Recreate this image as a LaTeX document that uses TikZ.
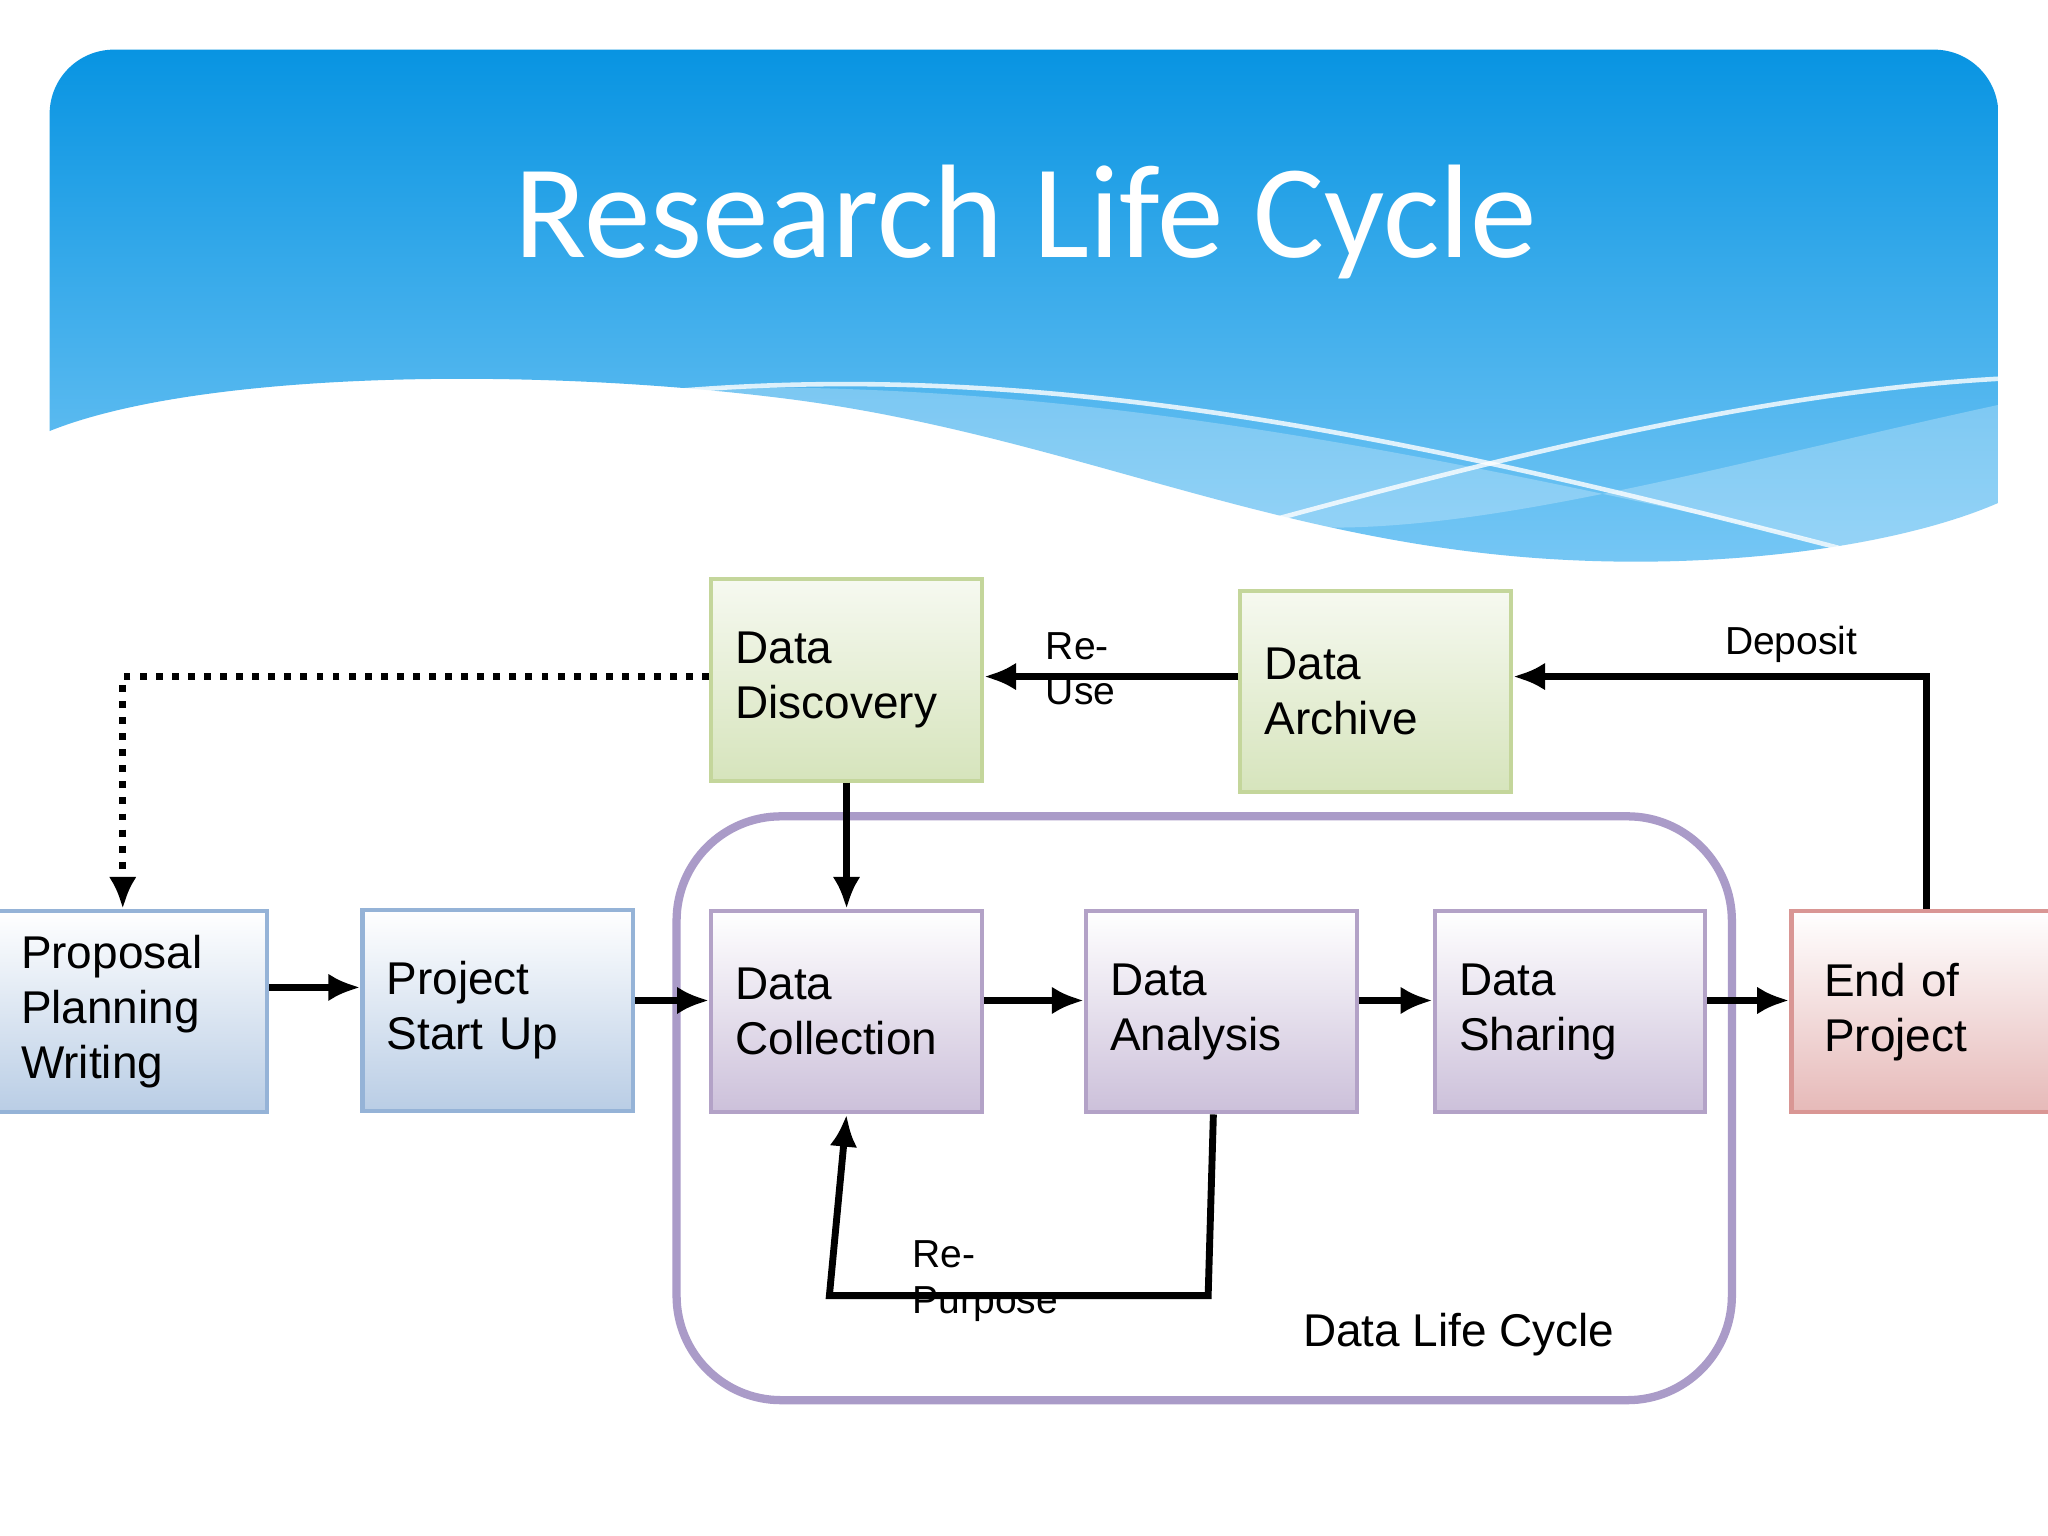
\documentclass[tikz,border=0pt]{standalone}
\usepackage{fontspec}
\setmainfont{Liberation Sans}
\newfontfamily\titlefont{Carlito}
\usetikzlibrary{arrows.meta,calc}
\begin{document}
\begin{tikzpicture}[x=0.01cm,y=-0.01cm,
  box/.style={draw,line width=0.9pt,minimum width=2.07cm,minimum height=1.54cm,text width=1.7cm,align=left,font=\fontsize{10}{12}\selectfont,anchor=north west,inner xsep=0.17cm},
  green/.style={box,draw={rgb,255:red,196;green,214;blue,155},top color={rgb,255:red,246;green,249;blue,240},bottom color={rgb,255:red,214;green,228;blue,188}},
  blue/.style={box,draw={rgb,255:red,149;green,179;blue,215},top color=white,bottom color={rgb,255:red,185;green,205;blue,229}},
  purple/.style={box,draw={rgb,255:red,179;green,162;blue,199},top color=white,bottom color={rgb,255:red,204;green,192;blue,218}},
  red/.style={box,draw={rgb,255:red,217;green,150;blue,148},top color=white,bottom color={rgb,255:red,230;green,185;blue,184}},
  arr/.style={line width=1.5pt,-{Latex[length=7pt,width=6pt]}},
  lbl/.style={font=\fontsize{8.5}{10}\selectfont,align=left,inner sep=0pt}]
\useasboundingbox (0,0) rectangle (1568,1176);
\fill[white] (0,0) rectangle (1568,1176);
% header
\shade[top color={rgb,255:red,8;green,148;blue,226},bottom color={rgb,255:red,120;green,200;blue,245}]
 (38,330) [rounded corners=14] -- (38,38) -- (1530,38) [sharp corners] -- (1530,385)
 .. controls (1450,420) and (1300,440) .. (1150,425)
 .. controls (950,405) and (800,330) .. (600,305)
 .. controls (400,280) and (150,285) .. (38,330) -- cycle;
\fill[white,opacity=0.25] (450,300) .. controls (800,280) and (1100,350) .. (1420,420) .. controls (1480,410) and (1510,400) .. (1530,385) -- (1530,310) .. controls (1300,360) and (1100,420) .. (960,400) .. controls (800,370) and (650,310) .. (450,300) -- cycle;
\draw[white,line width=1pt,opacity=0.8] (490,302) .. controls (800,270) and (1100,340) .. (1410,420);
\draw[white,line width=1pt,opacity=0.8] (960,402) .. controls (1150,350) and (1350,300) .. (1530,290);
\node[white,font=\titlefont\fontsize{29}{32}\selectfont] (title) at (785,170) {Research Life Cycle};
% data life cycle frame
\draw[line width=1.8pt,draw={rgb,255:red,170;green,155;blue,200},rounded corners=0.8cm] (518,625) rectangle (1326,1072);
\node[font=\fontsize{10}{12}\selectfont,anchor=west,inner sep=0pt] (dlc) at (997,1022) {Data Life Cycle};
% boxes
\node[green] (disc) at (543,442) {Data\\Discovery};
\node[green] (arch) at (948,451) {Data\\Archive};
\node[blue] (prop) at (-4,696) {Proposal\\Planning\\Writing};
\node[blue] (start) at (276,695) {Project\\Start Up};
\node[purple] (coll) at (543,696) {Data\\Collection};
\node[purple] (anal) at (830,696) {Data\\Analysis};
\node[purple] (shar) at (1097,696) {Data\\Sharing};
\node[red,minimum width=2.2cm] (end) at (1370,696) {End of\\Project};
% connectors
\draw[arr] (disc.south) -- (coll.north);
\draw[arr] (arch.west |- 0,518) -- (disc.east |- 0,518);
\node[lbl,anchor=west] (reuse) at (800,512) {Re-\\Use};
\draw[arr] (end.north -| 1475,0) |- (arch.east |- 0,518);
\node[lbl,anchor=west] (dep) at (1320,493) {Deposit};
\draw[line width=1.5pt,dotted,-{Latex[length=7pt,width=6pt]}] (disc.west |- 0,518) -| (prop.north -| 94,0);
\draw[arr] (prop.east |- 0,756) -- (start.west |- 0,756);
\draw[arr] (start.east |- 0,766) -- (coll.west |- 0,766);
\draw[arr] (coll.east |- 0,766) -- (anal.west |- 0,766);
\draw[arr] (anal.east |- 0,766) -- (shar.west |- 0,766);
\draw[arr] (shar.east |- 0,766) -- (end.west |- 0,766);
\coordinate (r1) at (925,992);
\coordinate (r2) at (635,992);
\draw[arr] (anal.south -| 929,0) -- (r1) -- (r2) -- (coll.south);
\node[lbl,anchor=west] (rep) at (698,981) {Re-\\Purpose};
\end{tikzpicture}
\end{document}
